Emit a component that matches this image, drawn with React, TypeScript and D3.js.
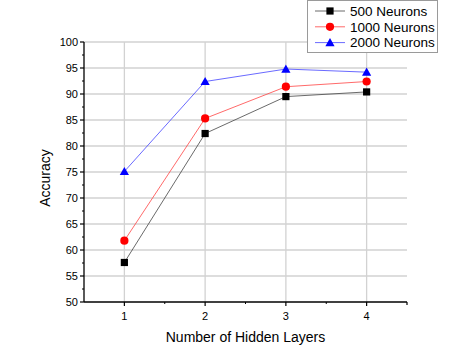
import React from 'react';
import * as d3 from 'd3';

// --- data ---
const layers = [1, 2, 3, 4];
const neurons500 = [57.6, 82.4, 89.5, 90.4];
const neurons1000 = [61.8, 85.3, 91.4, 92.4];
const neurons2000 = [75.1, 92.4, 94.8, 94.2];
const seriesNames = ['500 Neurons', '1000 Neurons', '2000 Neurons'];
const yTicks = [50, 55, 60, 65, 70, 75, 80, 85, 90, 95, 100];

const W = 474;
const H = 354;
const FONT = 'Liberation Sans, Arial, Helvetica, sans-serif';

const Marker: React.FC<{ kind: number; x: number; y: number; color: string }> = ({ kind, x, y, color }) => {
    if (kind === 0) return <rect x={x - 3.6} y={y - 3.6} width={7.2} height={7.2} fill={color} />;
    if (kind === 1) return <circle cx={x} cy={y} r={4.1} fill={color} />;
    return <path d={`M${x},${y - 4.6} L${x + 4.6},${y + 3.6} L${x - 4.6},${y + 3.6} Z`} fill={color} />;
};

export default function App() {
    const left = 84, right = 407, top = 42, bottom = 302;
    const x = d3.scaleLinear().domain([0.5, 4.5]).range([left, right]);
    const y = d3.scaleLinear().domain([50, 100]).range([bottom, top]);

    const series = [
        { name: seriesNames[0], values: neurons500, color: '#000000', line: '#444444' },
        { name: seriesNames[1], values: neurons1000, color: '#ff0000', line: '#ff4444' },
        { name: seriesNames[2], values: neurons2000, color: '#0000ff', line: '#4444ff' },
    ];

    const line = d3.line<number>().x((_, i) => x(layers[i])).y(d => y(d));
    const minorY = d3.range(52.5, 100, 5);
    const minorX = [1.5, 2.5, 3.5];

    return (
        <svg width={W} height={H} style={{ position: 'absolute', left: 0, top: 0, background: '#fff' }} fontFamily={FONT}>
            {/* grid */}
            {yTicks.filter(t => t > 50).map(t => (
                <line key={'gy' + t} x1={left} x2={right} y1={y(t)} y2={y(t)} stroke="#d2d2d2" strokeWidth={1.3} />
            ))}
            {layers.map(l => (
                <line key={'gx' + l} x1={x(l)} x2={x(l)} y1={top} y2={bottom} stroke="#d2d2d2" strokeWidth={1.3} />
            ))}

            {/* lines + markers */}
            {series.map((s, k) => (
                <g key={s.name}>
                    <path d={line(s.values) || ''} fill="none" stroke={s.line} strokeWidth={0.8} />
                    {s.values.map((v, i) => (
                        <Marker key={i} kind={k} x={x(layers[i])} y={y(v)} color={s.color} />
                    ))}
                </g>
            ))}

            {/* y axis */}
            <line x1={left} x2={left} y1={top} y2={bottom} stroke="#000" strokeWidth={1.3} />
            {yTicks.map(t => (
                <g key={'ty' + t}>
                    <line x1={left - 4} x2={left} y1={y(t)} y2={y(t)} stroke="#000" strokeWidth={1.2} />
                    <text x={left - 6} y={y(t)} dy="0.35em" textAnchor="end" fontSize={11}>{t}</text>
                </g>
            ))}
            {minorY.map(t => (
                <line key={'my' + t} x1={left - 2} x2={left} y1={y(t)} y2={y(t)} stroke="#000" strokeWidth={1} />
            ))}

            {/* x axis */}
            <line x1={left} x2={right} y1={bottom} y2={bottom} stroke="#000" strokeWidth={1.3} />
            <line x1={right} x2={right} y1={bottom} y2={bottom + 3} stroke="#000" strokeWidth={1.2} />
            {layers.map(l => (
                <g key={'tx' + l}>
                    <line x1={x(l)} x2={x(l)} y1={bottom} y2={bottom + 4} stroke="#000" strokeWidth={1.2} />
                    <text x={x(l)} y={bottom + 18} textAnchor="middle" fontSize={11}>{l}</text>
                </g>
            ))}
            {minorX.map(t => (
                <line key={'mx' + t} x1={x(t)} x2={x(t)} y1={bottom} y2={bottom + 2} stroke="#000" strokeWidth={1} />
            ))}

            {/* axis titles */}
            <text x={(left + right) / 2} y={342} textAnchor="middle" fontSize={14}>Number of Hidden Layers</text>
            <text transform={`translate(50,${(top + bottom) / 2 + 6}) rotate(-90)`} textAnchor="middle" fontSize={14}>Accuracy</text>

            {/* legend */}
            <g>
                <rect x={307.5} y={0.5} width={130} height={52} fill="#fff" stroke="#9a9a9a" strokeWidth={1} />
                {series.map((s, k) => {
                    const ly = 11 + k * 15.8;
                    return (
                        <g key={'lg' + k}>
                            <line x1={315} x2={345} y1={ly} y2={ly} stroke={s.line} strokeWidth={0.8} />
                            <Marker kind={k} x={330} y={ly} color={s.color} />
                            <text x={350} y={ly} dy="0.36em" fontSize={13.5}>{s.name}</text>
                        </g>
                    );
                })}
            </g>
        </svg>
    );
}
